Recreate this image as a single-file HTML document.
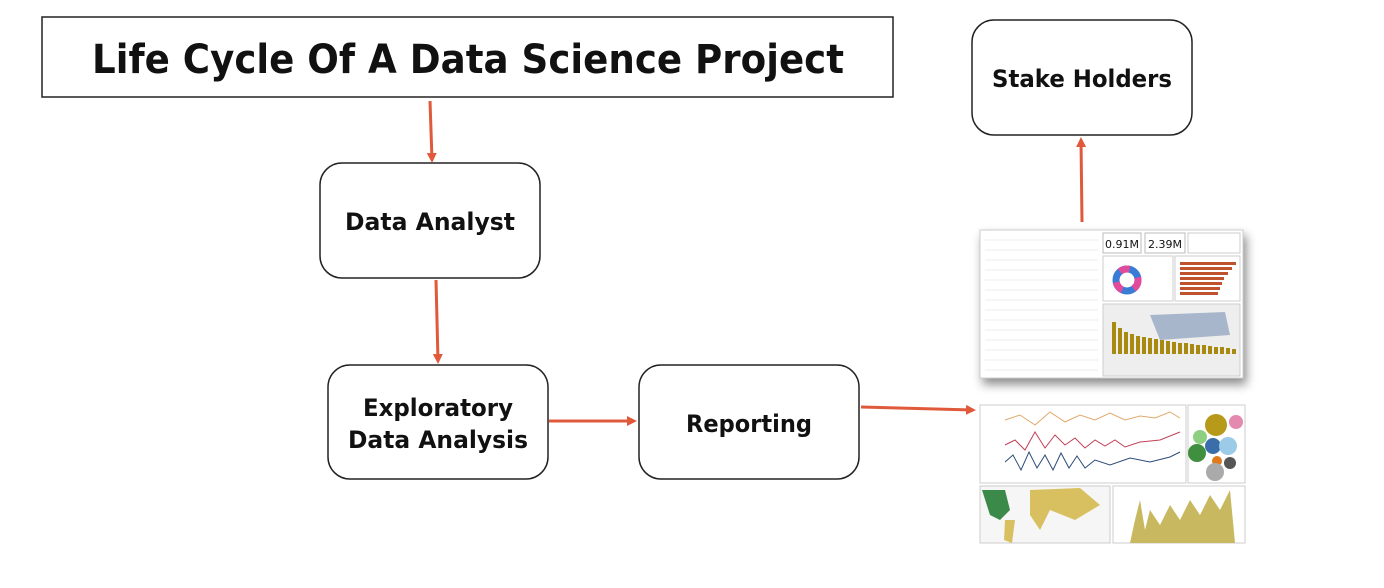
<!DOCTYPE html>
<html><head><style>body{margin:0;background:#fff}svg{display:block}text{font-family:"DejaVu Sans","Liberation Sans",sans-serif;font-weight:bold;fill:#111}</style></head><body>
<svg width="1384" height="588" viewBox="0 0 1384 588">
<defs>
<marker id="a" markerWidth="10" markerHeight="10" refX="7" refY="5" orient="auto" markerUnits="userSpaceOnUse"><path d="M0,0 L10,5 L0,10 z" fill="#e0593a"/></marker>
<filter id="sh" x="-10%" y="-10%" width="130%" height="140%"><feDropShadow dx="3" dy="6" stdDeviation="5" flood-color="#000" flood-opacity="0.45"/></filter>
</defs>
<rect x="42" y="17" width="851" height="80" fill="#fff" stroke="#222" stroke-width="1.5"/>
<text x="468" y="73" font-size="40" text-anchor="middle" textLength="752" lengthAdjust="spacingAndGlyphs">Life Cycle Of A Data Science Project</text>
<rect x="320" y="163" width="220" height="115" rx="22" fill="#fff" stroke="#222" stroke-width="1.5"/>
<text x="430" y="230" font-size="24" text-anchor="middle" textLength="170" lengthAdjust="spacingAndGlyphs">Data Analyst</text>
<rect x="328" y="365" width="220" height="114" rx="22" fill="#fff" stroke="#222" stroke-width="1.5"/>
<text x="438" y="416" font-size="24" text-anchor="middle" textLength="150" lengthAdjust="spacingAndGlyphs">Exploratory</text>
<text x="438" y="448" font-size="24" text-anchor="middle" textLength="180" lengthAdjust="spacingAndGlyphs">Data Analysis</text>
<rect x="639" y="365" width="220" height="114" rx="22" fill="#fff" stroke="#222" stroke-width="1.5"/>
<text x="749" y="432" font-size="24" text-anchor="middle" textLength="126" lengthAdjust="spacingAndGlyphs">Reporting</text>
<rect x="972" y="20" width="220" height="115" rx="22" fill="#fff" stroke="#222" stroke-width="1.5"/>
<text x="1082" y="87" font-size="24" text-anchor="middle" textLength="180" lengthAdjust="spacingAndGlyphs">Stake Holders</text>
<g stroke="#e0593a" stroke-width="3" fill="none">
<line x1="430" y1="101" x2="432" y2="160" marker-end="url(#a)"/>
<line x1="436" y1="280" x2="438" y2="361" marker-end="url(#a)"/>
<line x1="549" y1="421" x2="634" y2="421" marker-end="url(#a)"/>
<line x1="861" y1="407" x2="973" y2="410" marker-end="url(#a)"/>
<line x1="1082" y1="222" x2="1081" y2="140" marker-end="url(#a)"/>
</g>
<g filter="url(#sh)"><rect x="980" y="230" width="263" height="148" fill="#fff" stroke="#ccc"/></g>
<g stroke="#ddd" stroke-width="0.6">
<line x1="985" y1="240" x2="1098" y2="240"/><line x1="985" y1="250" x2="1098" y2="250"/><line x1="985" y1="260" x2="1098" y2="260"/><line x1="985" y1="270" x2="1098" y2="270"/><line x1="985" y1="280" x2="1098" y2="280"/><line x1="985" y1="290" x2="1098" y2="290"/><line x1="985" y1="300" x2="1098" y2="300"/><line x1="985" y1="310" x2="1098" y2="310"/><line x1="985" y1="320" x2="1098" y2="320"/><line x1="985" y1="330" x2="1098" y2="330"/><line x1="985" y1="340" x2="1098" y2="340"/><line x1="985" y1="350" x2="1098" y2="350"/><line x1="985" y1="360" x2="1098" y2="360"/><line x1="985" y1="370" x2="1098" y2="370"/>
</g>
<rect x="1103" y="233" width="38" height="20" fill="#fff" stroke="#bbb"/>
<text x="1122" y="248" font-size="11" text-anchor="middle" style="font-weight:normal">0.91M</text>
<rect x="1145" y="233" width="40" height="20" fill="#fff" stroke="#bbb"/>
<text x="1165" y="248" font-size="11" text-anchor="middle" style="font-weight:normal">2.39M</text>
<rect x="1188" y="233" width="52" height="20" fill="#fff" stroke="#ccc"/>
<rect x="1103" y="256" width="70" height="45" fill="#fff" stroke="#ccc"/>
<circle cx="1127" cy="280" r="11" fill="none" stroke="#3a7bd5" stroke-width="7"/>
<circle cx="1127" cy="280" r="11" fill="none" stroke="#e24a9b" stroke-width="7" stroke-dasharray="10 12"/>
<rect x="1175" y="256" width="65" height="45" fill="#fff" stroke="#ccc"/>
<g fill="#c0532e"><rect x="1180" y="262" width="56" height="3"/><rect x="1180" y="267" width="52" height="3"/><rect x="1180" y="272" width="48" height="3"/><rect x="1180" y="277" width="44" height="3"/><rect x="1180" y="282" width="42" height="3"/><rect x="1180" y="287" width="40" height="3"/><rect x="1180" y="292" width="38" height="3"/></g>
<rect x="1103" y="304" width="137" height="72" fill="#eee" stroke="#ccc"/>
<path d="M1150 315 L1225 312 L1230 335 L1160 340 Z" fill="#a8b6cc"/>
<g fill="#a88a10"><rect x="1112" y="322" width="4" height="32"/><rect x="1118" y="328" width="4" height="26"/><rect x="1124" y="332" width="4" height="22"/><rect x="1130" y="334" width="4" height="20"/><rect x="1136" y="336" width="4" height="18"/><rect x="1142" y="337" width="4" height="17"/><rect x="1148" y="338" width="4" height="16"/><rect x="1154" y="339" width="4" height="15"/><rect x="1160" y="340" width="4" height="14"/><rect x="1166" y="341" width="4" height="13"/><rect x="1172" y="342" width="4" height="12"/><rect x="1178" y="343" width="4" height="11"/><rect x="1184" y="343" width="4" height="11"/><rect x="1190" y="344" width="4" height="10"/><rect x="1196" y="345" width="4" height="9"/><rect x="1202" y="345" width="4" height="9"/><rect x="1208" y="346" width="4" height="8"/><rect x="1214" y="347" width="4" height="7"/><rect x="1220" y="347" width="4" height="7"/><rect x="1226" y="348" width="4" height="6"/><rect x="1232" y="349" width="4" height="5"/></g>
<rect x="980" y="405" width="206" height="78" fill="#fff" stroke="#ccc"/>
<polyline points="1005,420 1020,415 1035,425 1050,412 1065,422 1080,415 1095,420 1110,413 1125,420 1140,416 1155,418 1170,412 1180,418" fill="none" stroke="#e2a86a" stroke-width="1"/>
<polyline points="1005,445 1015,440 1025,450 1035,432 1045,448 1055,435 1065,445 1075,438 1085,448 1095,440 1105,446 1115,440 1125,447 1140,442 1160,440 1180,432" fill="none" stroke="#c04058" stroke-width="1"/>
<polyline points="1005,462 1013,455 1021,470 1029,452 1037,468 1045,455 1053,470 1061,453 1069,468 1077,456 1085,468 1095,460 1110,465 1130,458 1150,462 1170,457 1180,452" fill="none" stroke="#2c4a78" stroke-width="1"/>
<rect x="1188" y="405" width="57" height="78" fill="#fff" stroke="#ccc"/>
<circle cx="1216" cy="425" r="11" fill="#b89a1a"/><circle cx="1236" cy="422" r="7" fill="#e48ab0"/><circle cx="1200" cy="437" r="7" fill="#8ccf80"/><circle cx="1197" cy="453" r="9" fill="#3f8f3f"/><circle cx="1213" cy="446" r="8" fill="#3b6ea8"/><circle cx="1228" cy="446" r="9" fill="#9ccbe8"/><circle cx="1217" cy="461" r="5" fill="#e07a1a"/><circle cx="1230" cy="463" r="6" fill="#555"/><circle cx="1215" cy="472" r="9" fill="#aaa"/>
<rect x="980" y="486" width="130" height="57" fill="#f6f6f6" stroke="#ccc"/>
<path d="M982 490 L1005 490 L1010 510 L1000 520 L990 515 Z" fill="#3c8a4a"/>
<path d="M1030 490 L1080 488 L1100 505 L1075 520 L1050 510 L1040 530 L1030 515 Z" fill="#d8c060"/>
<path d="M1005 520 L1015 520 L1012 543 L1004 540 Z" fill="#d8c060"/>
<rect x="1113" y="486" width="132" height="57" fill="#fff" stroke="#ccc"/>
<path d="M1130 543 L1135 520 L1140 500 L1145 530 L1150 510 L1160 525 L1170 505 L1180 520 L1190 500 L1200 515 L1210 495 L1220 510 L1230 490 L1235 543 Z" fill="#c8b860"/>
</svg>
</body></html>
